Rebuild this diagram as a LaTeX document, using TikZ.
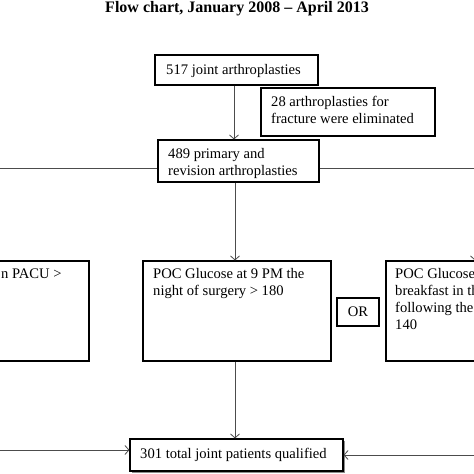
\documentclass[tikz,border=0pt]{standalone}
\usepackage{fontspec}
\setmainfont{Liberation Serif}
\usetikzlibrary{arrows.meta}
\begin{document}
\begin{tikzpicture}[x=1pt,y=-1pt,
  box/.style={draw=black,line width=1.1pt,rectangle,inner sep=0pt},
  txt/.style={inner sep=0pt,anchor=north west,align=left,font=\fontsize{14.6}{17}\selectfont},
  conn/.style={draw=black!70,line width=0.8pt},
  arr/.style={conn,-{Straight Barb[length=4pt,width=9pt]}}]
\useasboundingbox (0,0) rectangle (474,474);
\clip (0,0) rectangle (474,474);
\fill[white] (0,0) rectangle (474,474);
\node[font=\bfseries\fontsize{16}{18}\selectfont,inner sep=0pt,anchor=base] (title) at (237,12.5) {Flow chart, January 2008 -- April 2013};
% boxes
\node[box,minimum width=163pt,minimum height=30pt] (b517) at (236.5,70) {};
\node[txt,anchor=base west] (t517) at (166,74.5) {517 joint arthroplasties};
\node[box,minimum width=174pt,minimum height=48pt] (b28) at (348,112) {};
\node[txt] (t28) at (271,96) {28 arthroplasties for\\fracture were eliminated};
\node[box,minimum width=161pt,minimum height=42pt] (b489) at (238.5,161) {};
\node[txt] (t489) at (168,148) {489 primary and\\revision arthroplasties};
\node[box,minimum width=189pt,minimum height=100pt] (bL) at (-5.5,311) {};
\node[txt,anchor=base west] (tL) at (1,278) {n PACU >};
\node[box,minimum width=188pt,minimum height=100pt] (bM) at (237,311) {};
\node[txt] (tM) at (153,268) {POC Glucose at 9 PM the\\night of surgery > 180};
\node[box,minimum width=42pt,minimum height=28pt] (bOR) at (358,312) {};
\node[txt,anchor=center] (tOR) at (358,312) {OR};
\node[box,minimum width=178pt,minimum height=100pt] (bR) at (475,311) {};
\node[txt] (tR) at (395,268) {POC Glucose\\breakfast in the\\following the\\140};
\fill[black!45] (132,441) rectangle (345,473);
\node[box,fill=white,minimum width=213pt,minimum height=32pt] (b301) at (236.5,455) {};
\node[txt,anchor=base west] (t301) at (140,458) {301 total joint patients qualified};
% connectors
\coordinate (lstart) at (0,168);
\coordinate (rend) at (475,168);
\coordinate (lbot) at (0,450);
\coordinate (rbot) at (474,455);
\draw[arr] (b517.south -| 234,0) -- (b489.north -| 234,0);
\draw[conn] (lstart) -- (lstart -| b489.west);
\draw[conn] (rend -| b489.east) -- (rend);
\draw[arr] (b489.south -| 235,0) -- (bM.north -| 235,0);
\draw[arr] (rend) -- (bR.north -| rend);
\draw[arr] (bM.south -| 235,0) -- (b301.north -| 235,0);
\draw[arr] (lbot) -- (lbot -| b301.west);
\draw[arr] (rbot) -- (rbot -| b301.east);
\end{tikzpicture}
\end{document}
